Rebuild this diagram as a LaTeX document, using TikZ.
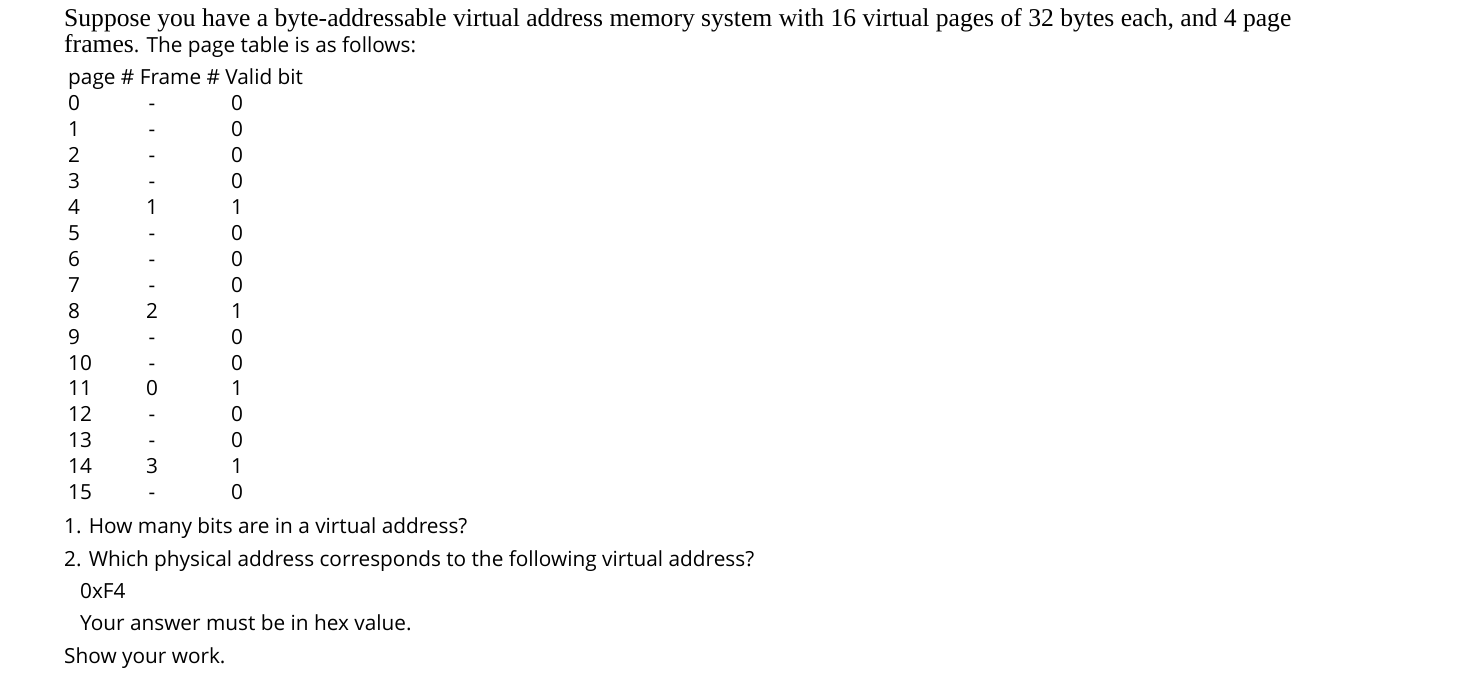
\documentclass[tikz,border=0pt]{standalone}
\usepackage{fontspec}
\setmainfont{Liberation Serif}
\newfontfamily\sans{Open Sans}
\begin{document}
\begin{tikzpicture}[x=1pt,y=-1pt,
  sr/.style={anchor=base west,inner sep=0pt,font=\fontsize{25.6}{30}\selectfont},
  ss/.style={anchor=base west,inner sep=0pt,font=\sans\fontsize{20.8}{24}\selectfont},
  sc/.style={anchor=base,inner sep=0pt,font=\sans\fontsize{20.8}{24}\selectfont}]
\useasboundingbox (0,0) rectangle (1466,692);
\node[sr] (l1) at (64,27) {Suppose you have a byte-addressable virtual address memory system with 16 virtual pages of 32 bytes each, and 4 page};
\node[sr] (l2) at (64,53) {frames{\sans\fontsize{20.8}{24}\selectfont. The page table is as follows:}};
\node[ss] (hd) at (68,85) {page \# Frame \# Valid bit};
\foreach \p/\f/\v [count=\i from 0] in {0/-/0,1/-/0,2/-/0,3/-/0,4/1/1,5/-/0,6/-/0,7/-/0,8/2/1,9/-/0,10/-/0,11/0/1,12/-/0,13/-/0,14/3/1,15/-/0}{
  \node[ss] (p\i) at (68,{111+25.9*\i}) {\p};
  \node[sc] (f\i) at (152,{111+25.9*\i}) {\f};
  \node[sc] (v\i) at (237,{111+25.9*\i}) {\v};
}
\node[ss] (q1) at (64,533) {1. How many bits are in a virtual address?};
\node[ss] (q2) at (64,566) {2. Which physical address corresponds to the following virtual address?};
\node[ss] (q3) at (80,598) {0xF4};
\node[ss] (q4) at (80,630) {Your answer must be in hex value.};
\node[ss] (q5) at (64,663) {Show your work.};
\end{tikzpicture}
\end{document}
